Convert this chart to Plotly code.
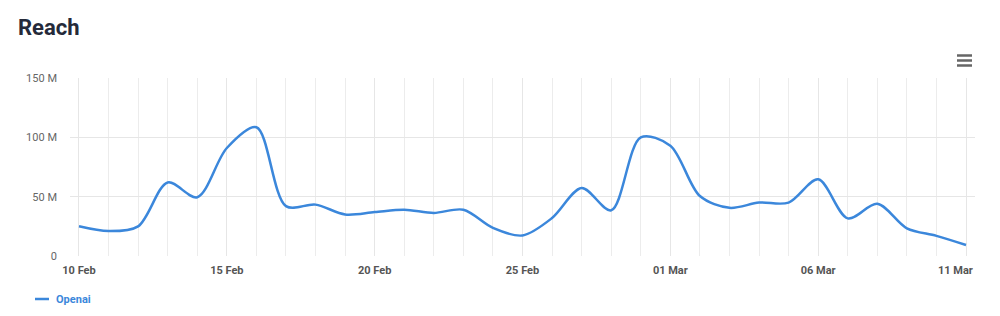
import plotly.graph_objects as go
import pandas as pd

dates = pd.date_range("2024-02-10", "2024-03-11", freq="D").strftime("%Y-%m-%d").tolist()
reach_m = [25, 21, 25, 62, 49.5, 91, 108.5, 42, 43.3, 35,
           37, 39, 36.3, 39, 23.7, 17.3, 32, 57.3, 38.5, 100,
           93, 50.5, 40.6, 45, 45, 64.6, 31.7, 44, 23.3, 17, 9.3]
series_name = "Openai"
x_tick_dates = ["2024-02-10", "2024-02-15", "2024-02-20", "2024-02-25",
                "2024-03-01", "2024-03-06", "2024-03-11"]
x_tick_labels = ["10 Feb", "15 Feb", "20 Feb", "25 Feb", "01 Mar", "06 Mar", "11 Mar"]
y_tick_vals = [0, 50, 100, 150]
y_tick_labels = ["0", "50 M", "100 M", "150 M"]

LINE = "#3b87db"
FONT = "Roboto"

fig = go.Figure()
fig.add_trace(go.Scatter(
    x=dates, y=reach_m, mode="lines", name=series_name,
    line=dict(color=LINE, width=2.5, shape="spline", smoothing=0.9),
    showlegend=False,
))

pad = pd.Timedelta(hours=7.3)
# last label is pulled inside the chart (as in the reference), so it is drawn separately
shown_labels = x_tick_labels[:-1] + [""]
fig.update_layout(
    width=1000, height=316,
    margin=dict(l=70, r=25, t=78, b=60),
    paper_bgcolor="white", plot_bgcolor="white",
    font=dict(family=FONT, size=11, color="#666666"),
    title=dict(text="<b>Reach</b>", x=0.018, xanchor="left", xref="container",
               y=1 - 27 / 316, yanchor="middle", yref="container",
               font=dict(family=FONT, size=22, color="#252a3a")),
    xaxis=dict(
        type="date",
        range=[pd.Timestamp(dates[0]) - pad, pd.Timestamp(dates[-1]) + pad],
        tickvals=x_tick_dates, ticktext=shown_labels,
        tickfont=dict(family=FONT, size=11, color="#555555", weight="bold"),
        showgrid=True, gridcolor="#e6e6e6", gridwidth=1,
        minor=dict(dtick=86400000, showgrid=True, gridcolor="#ececec", gridwidth=1),
        showline=False, zeroline=False, ticks="", ticklabelstandoff=6,
        fixedrange=True,
    ),
    yaxis=dict(
        range=[0, 150], tickvals=y_tick_vals, ticktext=y_tick_labels,
        tickfont=dict(family=FONT, size=11, color="#666666"),
        showgrid=True, gridcolor="#e6e6e6", gridwidth=1,
        zeroline=False, showline=False, ticks="", ticklabelstandoff=12,
        fixedrange=True,
    ),
)

def px_x(px):
    return (px - 70) / 905

def px_y(py):
    return (256 - py) / 178

fig.add_annotation(text="<b>" + x_tick_labels[-1] + "</b>", xref="paper", yref="paper",
                   x=px_x(975), y=px_y(270), xanchor="right", yanchor="middle",
                   showarrow=False, font=dict(family=FONT, size=11, color="#555555"))

# Legend (drawn manually to match the short marker)
fig.add_shape(type="line", xref="paper", yref="paper",
              x0=px_x(35), x1=px_x(49), y0=px_y(299), y1=px_y(299),
              line=dict(color=LINE, width=2.5))
fig.add_annotation(text="<b>" + series_name + "</b>", xref="paper", yref="paper",
                   x=px_x(54), y=px_y(299), xanchor="left", yanchor="middle",
                   showarrow=False, font=dict(family=FONT, size=11, color=LINE))

# Menu icon
for py in (55.5, 60.5, 65.5):
    fig.add_shape(type="line", xref="paper", yref="paper",
                  x0=px_x(957), x1=px_x(972), y0=px_y(py), y1=px_y(py),
                  line=dict(color="#666666", width=2.5))

fig.write_html("out.html", config={"displayModeBar": False})
